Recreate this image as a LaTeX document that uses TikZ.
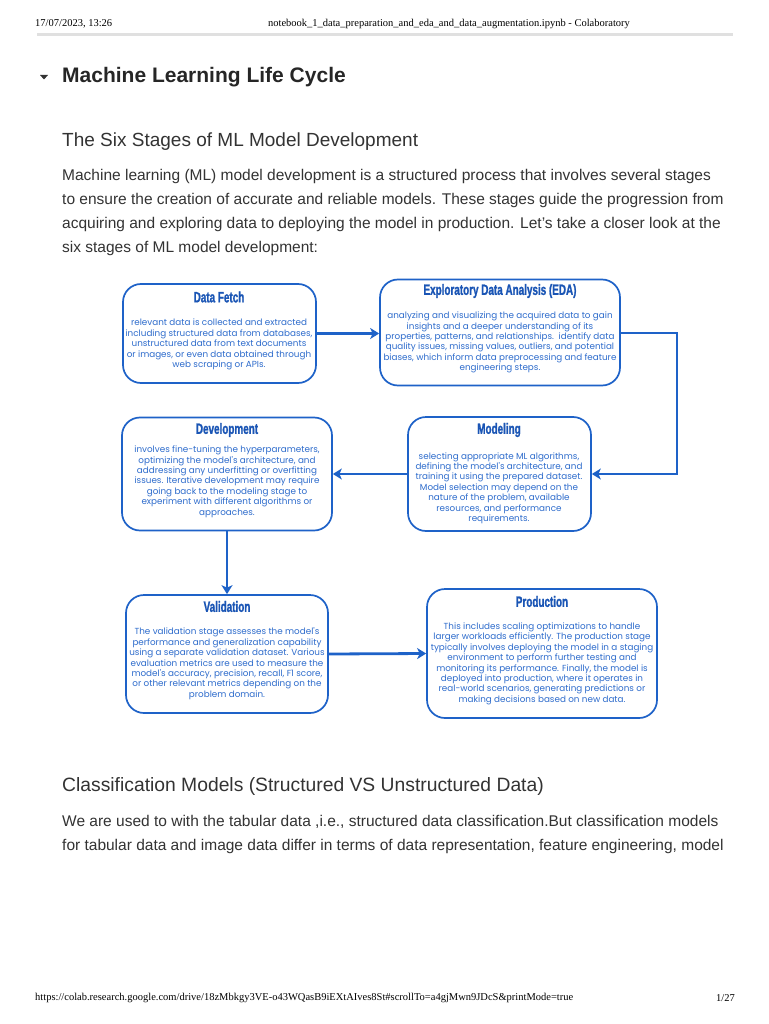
\documentclass[tikz,border=0pt]{standalone}
\usepackage{fontspec}
\usetikzlibrary{arrows.meta}
\setmainfont{Liberation Sans}
\newfontfamily\headfont{Liberation Serif}
\newfontfamily\stagefont[FakeStretch=0.66,FakeBold=1.2]{Liberation Sans}
\newfontfamily\boxfont{Poppins}
\definecolor{boxblue}{HTML}{1E62C8}
\definecolor{titleblue}{HTML}{1A55B5}
\definecolor{textblue}{HTML}{2E6CCC}
\definecolor{pagetext}{HTML}{333333}
\tikzset{
  stage/.style={draw=boxblue, line width=1.7pt, rounded corners=18pt, inner sep=0pt},
  stagetitle/.style={font=\stagefont\bfseries\fontsize{15}{17}\selectfont, text=titleblue, inner sep=0pt},
  stagetext/.style={font=\boxfont\fontsize{8.8}{10.4}\selectfont, text=textblue, align=center, inner sep=0pt},
  flow/.style={draw=boxblue, line width=2.8pt, -{Stealth[length=9pt,width=11pt,inset=2.5pt]}},
  pagepara/.style={font=\fontsize{15.5}{24}\selectfont, text=pagetext, align=left, anchor=north west, inner sep=0pt},
  headline/.style={font=\headfont\fontsize{10.5}{12}\selectfont, text=black, inner sep=0pt},
}
\begin{document}
\begin{tikzpicture}[x=1pt,y=-1pt]
        \fill[white] (0,0) rectangle (768,1024);
        \useasboundingbox (0,0) rectangle (768,1024);
        % page header and footer
        \node[headline, anchor=west] (date) at (35,24) {17/07/2023, 13:26};
        \node[headline] (file) at (449,24) {notebook\_1\_data\_preparation\_and\_eda\_and\_data\_augmentation.ipynb - Colaboratory};
        \draw[black!12, line width=3pt] (37,35) -- (733,35);
        \node[headline, anchor=west] (url) at (35,998) {https://colab.research.google.com/drive/18zMbkgy3VE-o43WQasB9iEXtAIves8St\#scrollTo=a4gjMwn9JDcS\&printMode=true};
        \node[headline, anchor=east] (page) at (735,998) {1/27};
        % headings and text
        \fill[pagetext] (40,75) -- (48,75) -- (44,79.5) -- cycle;
        \node[font=\bfseries\fontsize{21}{24}\selectfont, text=black!85, anchor=west, inner sep=0pt] (title) at (62,77) {Machine Learning Life Cycle};
        \node[font=\fontsize{19}{22}\selectfont, text=pagetext, anchor=west, inner sep=0pt] (sixstages) at (62,142) {The Six Stages of ML Model Development};
        \node[pagepara] (intro) at (62,169) {Machine learning (ML) model development is a structured process that involves several stages\\
          to ensure the creation of accurate and reliable models. These stages guide the progression from\\
          acquiring and exploring data to deploying the model in production. Let's take a closer look at the\\
          six stages of ML model development:};
        \node[font=\fontsize{19.3}{22}\selectfont, text=pagetext, anchor=west, inner sep=0pt] (classif) at (62,786) {Classification Models (Structured VS Unstructured Data)};
        \node[pagepara] (tabular) at (62,815) {We are used to with the tabular data ,i.e., structured data classification.But classification models\\
          for tabular data and image data differ in terms of data representation, feature engineering, model};
        % the six stages
        \node[stage, minimum width=193pt, minimum height=99pt] (fetch) at (219.5,333.5) {};
        \node[stage, minimum width=240pt, minimum height=106pt] (eda) at (500,332.5) {};
        \node[stage, minimum width=210pt, minimum height=113pt] (devel) at (227,474) {};
        \node[stage, minimum width=183pt, minimum height=114pt] (model) at (499.5,474) {};
        \node[stage, minimum width=202pt, minimum height=118pt] (valid) at (227,654) {};
        \node[stage, minimum width=230pt, minimum height=129pt] (prod) at (542,653.5) {};
        \node[stagetitle] (fetchT) at (219,297) {Data Fetch};
        \node[stagetitle] (edaT) at (500,291) {Exploratory Data Analysis (EDA)};
        \node[stagetitle] (develT) at (227,430) {Development};
        \node[stagetitle] (modelT) at (499,430) {Modeling};
        \node[stagetitle] (validT) at (227,606.5) {Validation};
        \node[stagetitle] (prodT) at (542,601.5) {Production};
        \node[stagetext] (fetchB) at (219,344.5) {relevant data is collected and extracted\\ including structured data from databases,\\ unstructured data from text documents\\ or images, or even data obtained through\\ web scraping or APIs.};
        \node[stagetext] (edaB) at (500,342.5) {analyzing and visualizing the acquired data to gain\\ insights and a deeper understanding of its\\ properties, patterns, and relationships.\ \ identify data\\ quality issues, missing values, outliers, and potential\\ biases, which inform data preprocessing and feature\\ engineering steps.};
        \node[stagetext] (develB) at (227,481.7) {involves fine-tuning the hyperparameters,\\ optimizing the model's architecture, and\\ addressing any underfitting or overfitting\\ issues. Iterative development may require\\ going back to the modeling stage to\\ experiment with different algorithms or\\ approaches.};
        \node[stagetext] (modelB) at (499,488) {selecting appropriate ML algorithms,\\ defining the model's architecture, and\\ training it using the prepared dataset.\\ Model selection may depend on the\\ nature of the problem, available\\ resources, and performance\\ requirements.};
        \node[stagetext] (validB) at (227,663.8) {The validation stage assesses the model's\\ performance and generalization capability\\ using a separate validation dataset. Various\\ evaluation metrics are used to measure the\\ model's accuracy, precision, recall, F1 score,\\ or other relevant metrics depending on the\\ problem domain.};
        \node[stagetext] (prodB) at (542,663.7) {This includes scaling optimizations to handle\\ larger workloads efficiently. The production stage\\ typically involves deploying the model in a staging\\ environment to perform further testing and\\ monitoring its performance. Finally, the model is\\ deployed into production, where it operates in\\ real-world scenarios, generating predictions or\\ making decisions based on new data.};
        % connectors
        \coordinate (turn) at (677,333);
        \draw[flow] (fetch.east) -- (fetch.east -| eda.west);
        \draw[flow] (eda.east |- turn) -- (turn) |- (model.east);
        \draw[flow] (model.west) -- (model.west -| devel.east);
        \draw[flow] (devel.south) -- (valid.north);
        \draw[flow] (valid.east) -- (prod.west);
    \end{tikzpicture}
\end{document}
